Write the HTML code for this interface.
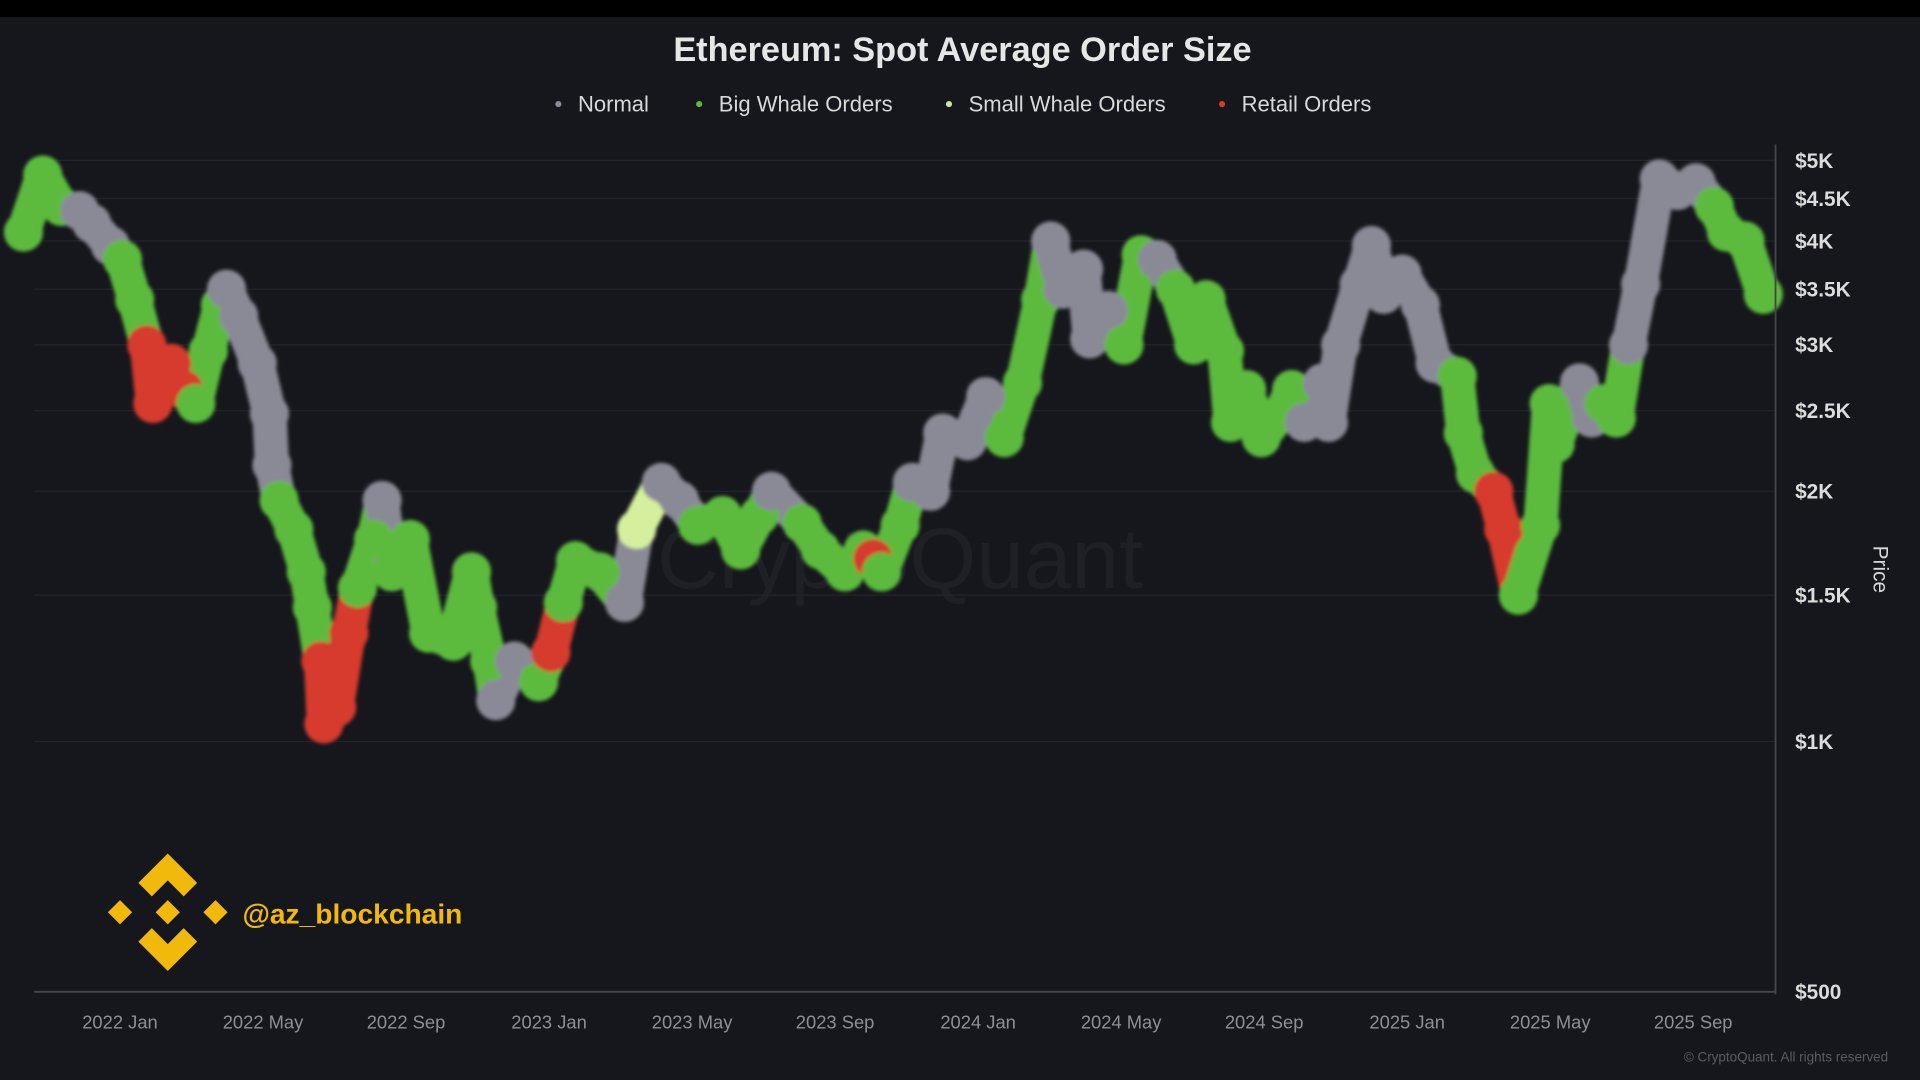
<!DOCTYPE html>
<html><head><meta charset="utf-8"><title>Ethereum: Spot Average Order Size</title>
<style>
html,body{margin:0;padding:0;background:#16171c;width:1920px;height:1080px;overflow:hidden;}
svg{display:block;font-family:"Liberation Sans",sans-serif;}
</style></head>
<body>
<svg id="chart" width="1920" height="1080" viewBox="0 0 1568 882" xmlns="http://www.w3.org/2000/svg">
  <defs><filter id="soft" x="-5%" y="-5%" width="110%" height="110%"><feGaussianBlur stdDeviation="1.6"/></filter></defs>
  <rect x="0" y="0" width="1568" height="882" fill="#16171c"/>
  <rect x="0" y="0" width="1568" height="14" fill="#000"/>
  <text x="786" y="50" text-anchor="middle" font-size="28" font-weight="bold" fill="#e6e6e6">Ethereum: Spot Average Order Size</text>
  <g font-size="18" fill="#d8d8d8">
    <g><circle cx="456" cy="85" r="2.5" fill="#8a8a96"/><text x="472" y="91">Normal</text></g>
    <g><circle cx="571" cy="85" r="2.5" fill="#5cbb3e"/><text x="587" y="91">Big Whale Orders</text></g>
    <g><circle cx="775" cy="85" r="2.5" fill="#c9e6a6"/><text x="791" y="91">Small Whale Orders</text></g>
    <g><circle cx="998" cy="85" r="2.5" fill="#d63a2e"/><text x="1014" y="91">Retail Orders</text></g>
  </g>
  <text x="735" y="480" text-anchor="middle" font-size="70" fill="#1f2026">CryptoQuant</text>
  <g id="grid"></g>
  <g id="yaxis"></g>
  <g id="xaxis"></g>
  <g id="marks" filter="url(#soft)"></g>
  <line x1="1450" y1="118" x2="1450" y2="812" stroke="#45464d" stroke-width="1.5"/>
  <line x1="28" y1="810" x2="1450" y2="810" stroke="#45464d" stroke-width="1.5"/>
  <text x="1530" y="465" text-anchor="middle" font-size="17" fill="#d8d8d8" transform="rotate(90 1530 465)">Price</text>
  <g fill="#f0b90b">
    <polygon points="137,697 161,721 150,732 137,719 124,732 113,721"/>
    <polygon points="137,793 161,769 150,758 137,771 124,758 113,769"/>
    <rect x="130" y="738" width="14" height="14" transform="rotate(45 137 745)"/>
    <rect x="91" y="738" width="14" height="14" transform="rotate(45 98 745)"/>
    <rect x="169" y="738" width="14" height="14" transform="rotate(45 176 745)"/>
  </g>
  <text x="198" y="754" font-size="23" font-weight="bold" fill="#f0b90b">@az_blockchain</text>
  <text x="1542" y="867" text-anchor="end" font-size="11" fill="#5a5b62">© CryptoQuant. All rights reserved</text>
</svg>
<script>
// months since 2022-01 (0 = Jan 2022)
const months = [-2.7,-2.16,-1.64,-1.13,-0.79,-0.27,0.07,0.41,0.75,0.92,1.10,1.44,1.78,2.12,2.47,2.81,2.98,3.32,3.84,4.18,4.25,4.45,4.86,5.21,5.38,5.62,5.7,6.06,6.40,6.64,7.09,7.33,7.60,8.12,8.63,9.32,9.83,10.0,10.34,10.51,11.03,11.71,12.05,12.40,12.74,13.42,14.11,14.45,15.14,15.65,16.16,16.85,17.36,17.88,18.22,19.08,19.59,20.27,20.79,21.06,21.30,21.82,22.16,22.67,23.01,23.70,24.21,24.73,25.24,25.75,26.03,26.37,26.95,27.12,27.64,28.08,28.56,29.01,29.52,30.03,30.38,30.89,31.06,31.51,31.92,32.43,32.77,33.12,33.63,33.80,34.14,34.66,35.0,35.34,35.86,36.37,36.78,37.40,37.57,37.91,38.42,38.70,39.11,39.73,39.97,40.14,40.82,41.16,41.51,41.85,42.19,42.53,43.05,43.56,44.08,44.59,44.93,45.45,45.96];
const prices = [4100,4800,4400,4350,4200,3950,3800,3400,3000,2550,2850,2850,2650,2550,2950,3350,3500,3250,2850,2480,2150,1950,1800,1600,1450,1250,1050,1100,1350,1530,1750,1950,1600,1750,1350,1320,1600,1450,1250,1120,1250,1180,1280,1470,1650,1600,1470,1800,2050,1950,1820,1870,1700,1870,2000,1830,1700,1600,1700,1660,1600,1820,2050,2000,2350,2300,2600,2320,2700,3400,4000,3500,3700,3050,3300,3000,3850,3800,3500,3000,3400,2950,2420,2650,2320,2470,2650,2420,2700,2420,3000,3550,3950,3450,3650,3350,2850,2750,2350,2100,2000,1800,1500,1820,2550,2280,2700,2450,2550,2450,3000,3550,4750,4600,4700,4400,4100,4000,3450];
const cats = ['b','b','b','n','n','n','b','b','r','r','r','r','r','b','b','b','n','n','n','n','n','b','b','b','b','r','r','r','r','b','b','n','b','b','b','b','b','b','b','n','n','b','r','b','b','b','n','s','n','n','b','b','b','b','n','b','b','b','b','r','b','b','n','n','n','n','n','b','b','b','n','n','n','n','n','b','b','n','b','b','b','b','b','b','b','b','b','n','n','n','n','n','n','n','n','n','n','b','b','b','r','r','b','b','b','b','n','n','b','b','n','n','n','n','n','b','b','b','b'];
const yTicks = [5000,4500,4000,3500,3000,2500,2000,1500,1000,500];
const yTickLabels = ['$5K','$4.5K','$4K','$3.5K','$3K','$2.5K','$2K','$1.5K','$1K','$500'];
const xTickMonths = [0,4,8,12,16,20,24,28,32,36,40,44];
const xTickLabels = ['2022 Jan','2022 May','2022 Sep','2023 Jan','2023 May','2023 Sep','2024 Jan','2024 May','2024 Sep','2025 Jan','2025 May','2025 Sep'];

const colors = {n:'#8a8a96', b:'#5cbb3e', s:'#d5ef9f', r:'#d63a2e'};
const NS = 'http://www.w3.org/2000/svg';
function xScale(m){ return 98 + m*29.2; }
function yScale(p){ return 131 + 679*Math.log10(5000/p); }

const grid = document.getElementById('grid');
const yaxis = document.getElementById('yaxis');
const xaxis = document.getElementById('xaxis');
const marks = document.getElementById('marks');

yTicks.forEach((v,i)=>{
  const y = yScale(v);
  if (v !== 500) {
    const l = document.createElementNS(NS,'line');
    l.setAttribute('x1',28); l.setAttribute('x2',1450);
    l.setAttribute('y1',y); l.setAttribute('y2',y);
    l.setAttribute('stroke','#23242a'); l.setAttribute('stroke-width','1');
    
    
    grid.appendChild(l);
  }
  const t = document.createElementNS(NS,'text');
  t.setAttribute('x',1466); t.setAttribute('y',y+6);
  t.setAttribute('font-size','17'); t.setAttribute('font-weight','bold'); t.setAttribute('fill','#dcdcdc');
  t.textContent = yTickLabels[i];
  
  
  yaxis.appendChild(t);
});

xTickMonths.forEach((m,i)=>{
  const t = document.createElementNS(NS,'text');
  t.setAttribute('x',xScale(m)); t.setAttribute('y',840);
  t.setAttribute('text-anchor','middle');
  t.setAttribute('font-size','15'); t.setAttribute('fill','#8e8f96');
  t.textContent = xTickLabels[i];
  
  
  xaxis.appendChild(t);
});

for (let i=0;i<months.length-1;i++){
  const l = document.createElementNS(NS,'line');
  l.setAttribute('x1',xScale(months[i])); l.setAttribute('y1',yScale(prices[i]));
  l.setAttribute('x2',xScale(months[i+1])); l.setAttribute('y2',yScale(prices[i+1]));
  l.setAttribute('stroke',colors[cats[i]]); l.setAttribute('stroke-width','28');
  l.setAttribute('stroke-linecap','round');
  
  
  marks.appendChild(l);
}
for (let i=0;i<months.length;i++){
  const c = document.createElementNS(NS,'circle');
  c.setAttribute('cx',xScale(months[i])); c.setAttribute('cy',yScale(prices[i]));
  c.setAttribute('r','16'); c.setAttribute('fill',colors[cats[i]]);
  
  
  marks.appendChild(c);
}
</script>
</body></html>
